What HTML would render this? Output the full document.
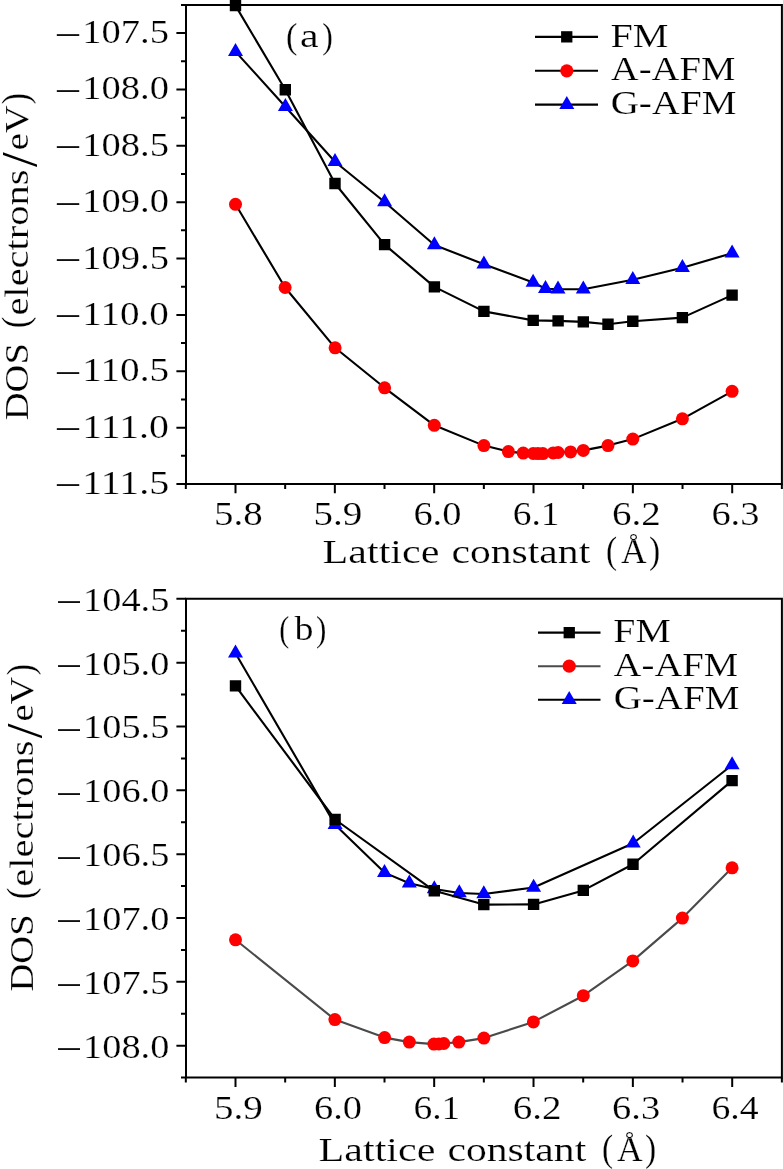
<!DOCTYPE html>
<html lang="en"><head><meta charset="utf-8"><title>DOS vs lattice constant</title>
<style>html,body{margin:0;padding:0;background:#fff;overflow:hidden}svg{display:block}text{font-family:"Liberation Serif",serif;fill:#000;stroke:#fff;stroke-width:.2px}.ns{stroke:none}</style></head>
<body>
<svg width="783" height="1169" viewBox="0 0 783 1169">
<rect x="0" y="0" width="783" height="1169" fill="#fff"/>
<g stroke="#000" stroke-width="2.00" fill="none" stroke-linecap="butt">
<path d="M186.00 4.90 H781.90 V484.00 H186.00 Z"/>
<path d="M235.50 484.00 v9.3 M334.84 484.00 v9.3 M434.18 484.00 v9.3 M533.52 484.00 v9.3 M632.86 484.00 v9.3 M732.20 484.00 v9.3 M185.83 484.00 v5 M285.17 484.00 v5 M384.51 484.00 v5 M483.85 484.00 v5 M583.19 484.00 v5 M682.53 484.00 v5 M781.87 484.00 v5 M186.00 33.08 h-9.6 M186.00 89.44 h-9.6 M186.00 145.81 h-9.6 M186.00 202.18 h-9.6 M186.00 258.54 h-9.6 M186.00 314.90 h-9.6 M186.00 371.27 h-9.6 M186.00 427.63 h-9.6 M186.00 484.00 h-9.6 M186.00 4.90 h-5 M186.00 61.26 h-5 M186.00 117.63 h-5 M186.00 173.99 h-5 M186.00 230.36 h-5 M186.00 286.72 h-5 M186.00 343.09 h-5 M186.00 399.45 h-5 M186.00 455.82 h-5"/>
</g>
<g stroke="#000" stroke-width="2.00" fill="none" stroke-linecap="butt">
<path d="M186.00 598.80 H781.90 V1077.60 H186.00 Z"/>
<path d="M235.50 1077.60 v9.3 M334.84 1077.60 v9.3 M434.18 1077.60 v9.3 M533.52 1077.60 v9.3 M632.86 1077.60 v9.3 M732.20 1077.60 v9.3 M185.83 1077.60 v5 M285.17 1077.60 v5 M384.51 1077.60 v5 M483.85 1077.60 v5 M583.19 1077.60 v5 M682.53 1077.60 v5 M781.87 1077.60 v5 M186.00 598.80 h-9.6 M186.00 662.64 h-9.6 M186.00 726.48 h-9.6 M186.00 790.32 h-9.6 M186.00 854.16 h-9.6 M186.00 918.00 h-9.6 M186.00 981.84 h-9.6 M186.00 1045.68 h-9.6 M186.00 630.72 h-5 M186.00 694.56 h-5 M186.00 758.40 h-5 M186.00 822.24 h-5 M186.00 886.08 h-5 M186.00 949.92 h-5 M186.00 1013.76 h-5 M186.00 1077.60 h-5"/>
</g>
<svg x="0" y="0" width="783" height="1169" overflow="hidden">
<polyline fill="none" stroke="#000" stroke-width="2.10" stroke-linejoin="round" points="235.5,51.6 285.4,106.7 335.0,161.7 384.6,202.0 434.4,245.0 483.9,264.2 533.1,282.5 545.5,288.7 558.0,289.2 583.3,289.2 632.8,279.7 682.4,267.7 732.1,253.2"/>
<path fill="#00f" d="M235.5 42.9l7.5 13.0h-15.0z M285.4 98.0l7.5 13.0h-15.0z M335.0 153.0l7.5 13.0h-15.0z M384.6 193.3l7.5 13.0h-15.0z M434.4 236.3l7.5 13.0h-15.0z M483.9 255.5l7.5 13.0h-15.0z M533.1 273.8l7.5 13.0h-15.0z M545.5 280.0l7.5 13.0h-15.0z M558.0 280.5l7.5 13.0h-15.0z M583.3 280.5l7.5 13.0h-15.0z M632.8 271.0l7.5 13.0h-15.0z M682.4 259.0l7.5 13.0h-15.0z M732.1 244.5l7.5 13.0h-15.0z"/>
<polyline fill="none" stroke="#000" stroke-width="2.10" stroke-linejoin="round" points="235.5,204.3 285.1,287.5 335.1,347.8 384.6,387.8 434.3,425.3 483.9,445.6 508.4,451.6 523.2,453.1 533.2,453.5 537.9,453.6 542.8,453.6 553.2,452.9 558.1,452.5 570.6,451.9 583.3,450.4 608.0,445.6 632.8,439.1 682.4,418.8 732.1,391.3"/>
<g fill="#f00"><circle cx="235.5" cy="204.3" r="6.5"/><circle cx="285.1" cy="287.5" r="6.5"/><circle cx="335.1" cy="347.8" r="6.5"/><circle cx="384.6" cy="387.8" r="6.5"/><circle cx="434.3" cy="425.3" r="6.5"/><circle cx="483.9" cy="445.6" r="6.5"/><circle cx="508.4" cy="451.6" r="6.5"/><circle cx="523.2" cy="453.1" r="6.5"/><circle cx="533.2" cy="453.5" r="6.5"/><circle cx="537.9" cy="453.6" r="6.5"/><circle cx="542.8" cy="453.6" r="6.5"/><circle cx="553.2" cy="452.9" r="6.5"/><circle cx="558.1" cy="452.5" r="6.5"/><circle cx="570.6" cy="451.9" r="6.5"/><circle cx="583.3" cy="450.4" r="6.5"/><circle cx="608.0" cy="445.6" r="6.5"/><circle cx="632.8" cy="439.1" r="6.5"/><circle cx="682.4" cy="418.8" r="6.5"/><circle cx="732.1" cy="391.3" r="6.5"/></g>
<polyline fill="none" stroke="#000" stroke-width="2.10" stroke-linejoin="round" points="235.5,5.6 285.3,89.7 335.0,183.5 384.6,244.6 434.4,286.9 483.9,311.4 533.2,320.4 558.1,320.9 583.3,321.9 608.0,324.2 632.8,321.2 682.4,317.6 732.1,295.1"/>
<path fill="#000" d="M229.8 -0.1h11.4v11.4h-11.4z M279.6 84.0h11.4v11.4h-11.4z M329.3 177.8h11.4v11.4h-11.4z M378.9 238.9h11.4v11.4h-11.4z M428.7 281.2h11.4v11.4h-11.4z M478.2 305.7h11.4v11.4h-11.4z M527.5 314.7h11.4v11.4h-11.4z M552.4 315.2h11.4v11.4h-11.4z M577.6 316.2h11.4v11.4h-11.4z M602.3 318.5h11.4v11.4h-11.4z M627.1 315.5h11.4v11.4h-11.4z M676.7 311.9h11.4v11.4h-11.4z M726.4 289.4h11.4v11.4h-11.4z"/>
<polyline fill="none" stroke="#000" stroke-width="2.10" stroke-linejoin="round" points="235.5,653.2 335.1,824.7 384.5,872.6 409.3,883.2 434.3,889.0 459.3,893.0 483.8,894.0 533.6,887.5 633.2,843.2 732.1,765.0"/>
<path fill="#00f" d="M235.5 644.5l7.5 13.0h-15.0z M335.1 816.0l7.5 13.0h-15.0z M384.5 863.9l7.5 13.0h-15.0z M409.3 874.5l7.5 13.0h-15.0z M434.3 880.3l7.5 13.0h-15.0z M459.3 884.3l7.5 13.0h-15.0z M483.8 885.3l7.5 13.0h-15.0z M533.6 878.8l7.5 13.0h-15.0z M633.2 834.5l7.5 13.0h-15.0z M732.1 756.3l7.5 13.0h-15.0z"/>
<polyline fill="none" stroke="#4a4a4a" stroke-width="2.10" stroke-linejoin="round" points="235.5,939.8 334.9,1019.6 384.6,1037.6 409.3,1042.1 433.9,1044.1 438.8,1043.9 443.8,1043.5 458.8,1042.1 483.9,1038.1 533.4,1021.9 583.3,995.7 632.8,960.9 682.4,918.1 732.1,867.8"/>
<g fill="#f00"><circle cx="235.5" cy="939.8" r="6.5"/><circle cx="334.9" cy="1019.6" r="6.5"/><circle cx="384.6" cy="1037.6" r="6.5"/><circle cx="409.3" cy="1042.1" r="6.5"/><circle cx="433.9" cy="1044.1" r="6.5"/><circle cx="438.8" cy="1043.9" r="6.5"/><circle cx="443.8" cy="1043.5" r="6.5"/><circle cx="458.8" cy="1042.1" r="6.5"/><circle cx="483.9" cy="1038.1" r="6.5"/><circle cx="533.4" cy="1021.9" r="6.5"/><circle cx="583.3" cy="995.7" r="6.5"/><circle cx="632.8" cy="960.9" r="6.5"/><circle cx="682.4" cy="918.1" r="6.5"/><circle cx="732.1" cy="867.8" r="6.5"/></g>
<polyline fill="none" stroke="#000" stroke-width="2.10" stroke-linejoin="round" points="235.5,685.9 335.1,819.5 434.3,890.8 483.8,904.6 533.6,904.4 583.3,890.4 633.0,864.3 732.1,780.6"/>
<path fill="#000" d="M229.8 680.2h11.4v11.4h-11.4z M329.4 813.8h11.4v11.4h-11.4z M428.6 885.1h11.4v11.4h-11.4z M478.1 898.9h11.4v11.4h-11.4z M527.9 898.7h11.4v11.4h-11.4z M577.6 884.7h11.4v11.4h-11.4z M627.3 858.6h11.4v11.4h-11.4z M726.4 774.9h11.4v11.4h-11.4z"/>
</svg>
<path stroke="#000" stroke-width="2.10" d="M535.0 36.9H598.0"/>
<path stroke="#000" stroke-width="2.10" d="M535.0 70.8H598.0"/>
<path stroke="#000" stroke-width="2.10" d="M535.0 104.6H598.0"/>
<path fill="#000" d="M561.1 31.2h11.3v11.3h-11.3z"/>
<g fill="#f00"><circle cx="566.8" cy="70.8" r="6.6"/></g>
<path fill="#00f" d="M566.8 95.9l7.5 13.0h-15.0z"/>
<path stroke="#000" stroke-width="2.10" d="M538.0 632.6H600.5"/>
<path stroke="#4a4a4a" stroke-width="2.10" d="M538.0 666.2H600.5"/>
<path stroke="#000" stroke-width="2.10" d="M538.0 699.8H600.5"/>
<path fill="#000" d="M563.6 627.0h11.3v11.3h-11.3z"/>
<g fill="#f00"><circle cx="569.2" cy="666.2" r="6.6"/></g>
<path fill="#00f" d="M569.2 691.1l7.5 13.0h-15.0z"/>
<text class="ns" transform="translate(54.24 46.57) scale(1.4516 1.0857)" font-size="33.2">−</text>
<text transform="translate(82.36 43.08) scale(1.1603 1.0000)" font-size="33.2">107.5</text>
<text class="ns" transform="translate(54.24 102.94) scale(1.4516 1.0857)" font-size="33.2">−</text>
<text transform="translate(82.36 99.44) scale(1.1603 1.0000)" font-size="33.2">108.0</text>
<text class="ns" transform="translate(54.24 159.30) scale(1.4516 1.0857)" font-size="33.2">−</text>
<text transform="translate(82.36 155.81) scale(1.1603 1.0000)" font-size="33.2">108.5</text>
<text class="ns" transform="translate(54.24 215.67) scale(1.4516 1.0857)" font-size="33.2">−</text>
<text transform="translate(82.36 212.18) scale(1.1603 1.0000)" font-size="33.2">109.0</text>
<text class="ns" transform="translate(54.24 272.03) scale(1.4516 1.0857)" font-size="33.2">−</text>
<text transform="translate(82.36 268.54) scale(1.1603 1.0000)" font-size="33.2">109.5</text>
<text class="ns" transform="translate(54.24 328.40) scale(1.4516 1.0857)" font-size="33.2">−</text>
<text transform="translate(82.31 324.90) scale(1.1791 1.0000)" font-size="33.2">110.0</text>
<text class="ns" transform="translate(54.24 384.76) scale(1.4516 1.0857)" font-size="33.2">−</text>
<text transform="translate(82.30 381.27) scale(1.1812 1.0000)" font-size="33.2">110.5</text>
<text class="ns" transform="translate(54.24 441.13) scale(1.4516 1.0857)" font-size="33.2">−</text>
<text transform="translate(82.25 437.63) scale(1.2007 1.0000)" font-size="33.2">111.0</text>
<text class="ns" transform="translate(54.24 497.49) scale(1.4516 1.0857)" font-size="33.2">−</text>
<text transform="translate(82.24 494.00) scale(1.2029 1.0000)" font-size="33.2">111.5</text>
<text class="ns" transform="translate(55.38 614.19) scale(1.4258 1.0857)" font-size="33.2">−</text>
<text transform="translate(83.08 610.70) scale(1.1546 1.0000)" font-size="33.2">104.5</text>
<text class="ns" transform="translate(55.38 678.03) scale(1.4258 1.0857)" font-size="33.2">−</text>
<text transform="translate(83.08 674.54) scale(1.1546 1.0000)" font-size="33.2">105.0</text>
<text class="ns" transform="translate(55.38 741.87) scale(1.4258 1.0857)" font-size="33.2">−</text>
<text transform="translate(83.08 738.38) scale(1.1546 1.0000)" font-size="33.2">105.5</text>
<text class="ns" transform="translate(55.38 805.71) scale(1.4258 1.0857)" font-size="33.2">−</text>
<text transform="translate(83.08 802.22) scale(1.1546 1.0000)" font-size="33.2">106.0</text>
<text class="ns" transform="translate(55.38 869.55) scale(1.4258 1.0857)" font-size="33.2">−</text>
<text transform="translate(83.08 866.06) scale(1.1546 1.0000)" font-size="33.2">106.5</text>
<text class="ns" transform="translate(55.38 933.39) scale(1.4258 1.0857)" font-size="33.2">−</text>
<text transform="translate(83.08 929.90) scale(1.1546 1.0000)" font-size="33.2">107.0</text>
<text class="ns" transform="translate(55.38 997.23) scale(1.4258 1.0857)" font-size="33.2">−</text>
<text transform="translate(83.08 993.74) scale(1.1546 1.0000)" font-size="33.2">107.5</text>
<text class="ns" transform="translate(55.38 1061.07) scale(1.4258 1.0857)" font-size="33.2">−</text>
<text transform="translate(83.08 1057.58) scale(1.1546 1.0000)" font-size="33.2">108.0</text>
<text transform="translate(214.10 525.00) scale(1.1726 1.0000)" font-size="33.2">5.8</text>
<text transform="translate(313.43 525.00) scale(1.1765 1.0000)" font-size="33.2">5.9</text>
<text transform="translate(413.39 525.00) scale(1.1576 1.0000)" font-size="33.2">6.0</text>
<text transform="translate(512.77 525.00) scale(1.1279 1.0000)" font-size="33.2">6.1</text>
<text transform="translate(612.04 525.00) scale(1.1765 1.0000)" font-size="33.2">6.2</text>
<text transform="translate(711.41 525.00) scale(1.1576 1.0000)" font-size="33.2">6.3</text>
<text transform="translate(214.09 1119.00) scale(1.1765 1.0000)" font-size="33.2">5.9</text>
<text transform="translate(314.05 1119.00) scale(1.1576 1.0000)" font-size="33.2">6.0</text>
<text transform="translate(413.43 1119.00) scale(1.1279 1.0000)" font-size="33.2">6.1</text>
<text transform="translate(512.70 1119.00) scale(1.1765 1.0000)" font-size="33.2">6.2</text>
<text transform="translate(612.07 1119.00) scale(1.1576 1.0000)" font-size="33.2">6.3</text>
<text transform="translate(711.44 1119.00) scale(1.1356 1.0000)" font-size="33.2">6.4</text>
<text transform="translate(322.55 562.75) scale(1.2532 1.0000)" font-size="33.6">Lattice</text>
<text transform="translate(451.45 562.75) scale(1.2398 1.0000)" font-size="33.6">constant</text>
<text transform="translate(606.00 563.25) scale(0.9971 1.1095)" font-size="33.6">(</text>
<text transform="translate(620.90 562.75) scale(1.0582 1.0836)" font-size="33.6">Å</text>
<text transform="translate(649.08 563.25) scale(0.9971 1.1095)" font-size="33.6">)</text>
<text transform="translate(318.55 1160.90) scale(1.2532 1.0000)" font-size="33.6">Lattice</text>
<text transform="translate(447.45 1160.90) scale(1.2398 1.0000)" font-size="33.6">constant</text>
<text transform="translate(602.00 1161.40) scale(0.9971 1.1095)" font-size="33.6">(</text>
<text transform="translate(616.90 1160.90) scale(1.0582 1.0836)" font-size="33.6">Å</text>
<text transform="translate(645.08 1161.40) scale(0.9971 1.1095)" font-size="33.6">)</text>
<text transform="translate(28.20 420.35) rotate(-90) scale(1.1493 1.0000)" font-size="33.6">DOS</text>
<text transform="translate(28.47 328.17) rotate(-90) scale(1.0435 1.0996)" font-size="33.6">(</text>
<text transform="translate(28.20 315.61) rotate(-90) scale(1.2059 1.0000)" font-size="33.6">electrons</text>
<text class="ns" transform="translate(35.74 167.00) rotate(-90) scale(1.5676 1.4844)" font-size="33.6">/</text>
<text transform="translate(28.20 150.33) rotate(-90) scale(1.1467 1.0000)" font-size="33.6">eV</text>
<text transform="translate(28.47 104.13) rotate(-90) scale(1.0087 1.0996)" font-size="33.6">)</text>
<text transform="translate(33.00 991.55) rotate(-90) scale(1.1493 1.0000)" font-size="33.6">DOS</text>
<text transform="translate(33.27 899.37) rotate(-90) scale(1.0435 1.0996)" font-size="33.6">(</text>
<text transform="translate(33.00 886.81) rotate(-90) scale(1.2059 1.0000)" font-size="33.6">electrons</text>
<text class="ns" transform="translate(40.54 738.20) rotate(-90) scale(1.5676 1.4844)" font-size="33.6">/</text>
<text transform="translate(33.00 721.53) rotate(-90) scale(1.1467 1.0000)" font-size="33.6">eV</text>
<text transform="translate(33.27 675.33) rotate(-90) scale(1.0087 1.0996)" font-size="33.6">)</text>
<text transform="translate(285.97 48.19) scale(1.0203 1.0403)" font-size="33.6">(</text>
<text transform="translate(300.00 47.40) scale(1.2486 1.0000)" font-size="33.6">a</text>
<text transform="translate(322.13 48.19) scale(0.9507 1.0403)" font-size="33.6">)</text>
<text transform="translate(279.16 641.34) scale(0.8928 1.0469)" font-size="33.6">(</text>
<text transform="translate(294.60 640.40) scale(1.1290 1.0000)" font-size="33.6">b</text>
<text transform="translate(316.06 641.34) scale(0.9275 1.0469)" font-size="33.6">)</text>
<text transform="translate(610.53 46.90) scale(1.1736 1.0000)" font-size="34.2">FM</text>
<text transform="translate(610.78 80.10) scale(1.1316 1.0000)" font-size="34.2">A-AFM</text>
<text transform="translate(610.63 113.50) scale(1.1430 1.0000)" font-size="34.2">G-AFM</text>
<text transform="translate(613.34 642.40) scale(1.1631 1.0000)" font-size="34.2">FM</text>
<text transform="translate(613.58 675.90) scale(1.1316 1.0000)" font-size="34.2">A-AFM</text>
<text transform="translate(613.63 709.40) scale(1.1411 1.0000)" font-size="34.2">G-AFM</text>
</svg>
</body></html>
